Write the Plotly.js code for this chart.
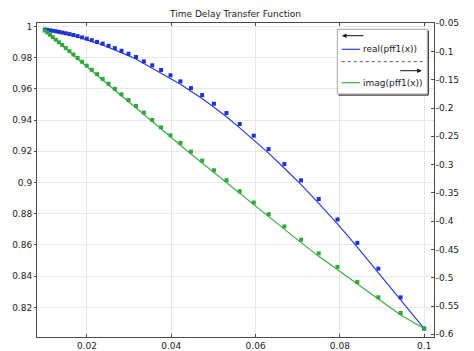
<!DOCTYPE html>
<html>
<head>
<meta charset="utf-8">
<script src="https://cdn.plot.ly/plotly-3.0.1.min.js"></script>
<style>html,body{margin:0;padding:0;background:#fff;}#chart{width:474px;height:351px;}</style>
</head>
<body>
<div id="chart"></div>
<script>
// x samples (log-spaced, 41 points from 0.01 to 0.1)
var xVals = [0.01,0.010593,0.01122,0.011885,0.012589,0.013335,0.014125,0.014962,0.015849,0.016788,
0.017783,0.018836,0.019953,0.021135,0.022387,0.023714,0.025119,0.026607,0.028184,0.029854,
0.031623,0.033497,0.035481,0.037584,0.039811,0.04217,0.044668,0.047315,0.050119,0.053088,
0.056234,0.059566,0.063096,0.066834,0.070795,0.074989,0.079433,0.08414,0.089125,0.094406,0.1];

// real part: dots and line (left axis)
var realDots = [0.9980,0.9978,0.9975,0.9972,0.9969,0.9965,0.9961,0.9956,0.9951,0.9945,
0.9938,0.9930,0.9922,0.9912,0.9901,0.9890,0.9876,0.9861,0.9844,0.9825,
0.9804,0.9776,0.9751,0.9721,0.9687,0.9648,0.9605,0.9560,0.9505,0.9445,
0.9375,0.9300,0.9214,0.9118,0.9014,0.8894,0.8763,0.8613,0.8448,0.8264,0.8064];
var realLine = [0.9980,0.9978,0.9974,0.9971,0.9967,0.9962,0.9958,0.9952,0.9947,0.9940,
0.9932,0.9924,0.9915,0.9904,0.9893,0.9881,0.9866,0.9851,0.9833,0.9813,
0.9791,0.9762,0.9736,0.9704,0.9669,0.9629,0.9584,0.9538,0.9482,0.9421,
0.9350,0.9274,0.9188,0.9091,0.8986,0.8866,0.8735,0.8586,0.8424,0.8245,0.8064];

// imaginary part: dots and line (right axis)
var imagDots = [-0.0630,-0.0665,-0.0704,-0.0746,-0.0790,-0.0837,-0.0886,-0.0939,-0.0994,-0.1053,
-0.1115,-0.1181,-0.1250,-0.1324,-0.1401,-0.1483,-0.1570,-0.1661,-0.1757,-0.1858,
-0.1964,-0.2081,-0.2210,-0.2341,-0.2482,-0.2616,-0.2770,-0.2929,-0.3100,-0.3276,
-0.3470,-0.3670,-0.3876,-0.4093,-0.4328,-0.4570,-0.4808,-0.5076,-0.5346,-0.5624,-0.5899];
var imagLine = [-0.0630,-0.0667,-0.0708,-0.0751,-0.0797,-0.0846,-0.0897,-0.0951,-0.1008,-0.1069,
-0.1133,-0.1200,-0.1271,-0.1346,-0.1425,-0.1508,-0.1596,-0.1688,-0.1786,-0.1888,
-0.1996,-0.2116,-0.2246,-0.2378,-0.2521,-0.2657,-0.2812,-0.2972,-0.3144,-0.3321,
-0.3516,-0.3717,-0.3924,-0.4142,-0.4379,-0.4622,-0.4861,-0.5122,-0.5386,-0.5659,-0.5899];

// tick labels
var xTickVals = [0.02,0.04,0.06,0.08,0.1];
var xTickText = ["0.02","0.04","0.06","0.08","0.1"];
var yTickVals = [0.82,0.84,0.86,0.88,0.9,0.92,0.94,0.96,0.98,1];
var yTickText = ["0.82","0.84","0.86","0.88","0.9","0.92","0.94","0.96","0.98","1"];
var y2TickVals = [-0.6,-0.55,-0.5,-0.45,-0.4,-0.35,-0.3,-0.25,-0.2,-0.15,-0.1,-0.05];
var y2TickText = ["-0.6","-0.55","-0.5","-0.45","-0.4","-0.35","-0.3","-0.25","-0.2","-0.15","-0.1","-0.05"];

var seriesNames = ["real(pff1(x))","imag(pff1(x))"];

var blue = '#2a3fe0', blueDot = '#1f33d0';
var green = '#3cae44', greenDot = '#2fa83a';
var font = 'DejaVu Sans';

var traces = [
  {x: xVals, y: realLine, mode: 'lines', line: {color: blue, width: 1.2}, yaxis: 'y', showlegend: false, hoverinfo: 'skip'},
  {x: xVals, y: realDots, mode: 'markers', marker: {color: blueDot, size: 4, symbol: 'square'}, yaxis: 'y', showlegend: false},
  {x: xVals, y: imagLine, mode: 'lines', line: {color: green, width: 1.2}, yaxis: 'y2', showlegend: false, hoverinfo: 'skip'},
  {x: xVals, y: imagDots, mode: 'markers', marker: {color: greenDot, size: 4, symbol: 'square'}, yaxis: 'y2', showlegend: false}
];

var axisColor = '#4a4a4a';
var gridColor = '#e8e8e8';

var layout = {
  width: 474, height: 351,
  margin: {l: 37, r: 40, t: 23, b: 14, pad: 0},
  paper_bgcolor: '#fff', plot_bgcolor: '#fff',
  font: {family: font, size: 9, color: '#222'},
  title: {text: 'Time Delay Transfer Function', font: {family: font, size: 9, color: '#222'},
          x: 0.5, xref: 'paper', xanchor: 'center', y: 0.96, yref: 'container', yanchor: 'middle'},
  showlegend: false,
  xaxis: {range: [0.00814, 0.10233], tickmode: 'array', tickvals: xTickVals, ticktext: xTickText,
          showgrid: true, gridcolor: gridColor, gridwidth: 1, zeroline: false,
          showline: true, linecolor: axisColor, linewidth: 1, mirror: 'ticks',
          ticks: 'inside', ticklen: 3, tickcolor: axisColor, automargin: false,
          tickfont: {family: font, size: 9, color: '#222'}},
  yaxis: {range: [0.801, 1.0022], tickmode: 'array', tickvals: yTickVals, ticktext: yTickText,
          showgrid: true, gridcolor: gridColor, gridwidth: 1, zeroline: false,
          showline: true, linecolor: axisColor, linewidth: 1, mirror: false,
          ticks: 'outside', ticklen: 2, tickcolor: axisColor, automargin: false,
          tickfont: {family: font, size: 9, color: '#222'}},
  yaxis2: {range: [-0.6048, -0.0496], overlaying: 'y', side: 'right', tickmode: 'array',
           tickvals: y2TickVals, ticktext: y2TickText, showgrid: false, zeroline: false,
           showline: true, linecolor: axisColor, linewidth: 1,
           ticks: 'inside', ticklen: 3, tickcolor: axisColor, automargin: false,
           ticklabelstandoff: -1,
           tickfont: {family: font, size: 9, color: '#222'}},
  shapes: [
    // legend shadow
    {type: 'line', xref: 'paper', yref: 'paper', x0: 0.9856, x1: 0.9856, y0: 0.9761, y1: 0.7707, line: {color: '#444', width: 1.5}, layer: 'above'},
    {type: 'line', xref: 'paper', yref: 'paper', x0: 0.7594, x1: 0.9856, y0: 0.7707, y1: 0.7707, line: {color: '#444', width: 1.5}, layer: 'above'},
    // legend box
    {type: 'rect', xref: 'paper', yref: 'paper', x0: 0.7564, x1: 0.9831, y0: 0.7739, y1: 0.9799, fillcolor: '#fff', line: {color: '#a8a8a8', width: 1}, layer: 'above'},
    // legend samples
    {type: 'line', xref: 'paper', yref: 'paper', x0: 0.7675, x1: 0.8136, y0: 0.9162, y1: 0.9162, line: {color: blue, width: 1.2}, layer: 'above'},
    {type: 'line', xref: 'paper', yref: 'paper', x0: 0.7675, x1: 0.9730, y0: 0.8768, y1: 0.8768, line: {color: '#555', width: 1, dash: 'dot'}, layer: 'above'},
    {type: 'line', xref: 'paper', yref: 'paper', x0: 0.7675, x1: 0.8136, y0: 0.8099, y1: 0.8099, line: {color: green, width: 1.2}, layer: 'above'}
  ],
  annotations: [
    {xref: 'paper', yref: 'paper', x: 0.7683, y: 0.9596, text: '', showarrow: true, ax: 23, ay: 0,
     arrowhead: 2, arrowsize: 0.9, arrowwidth: 1, arrowcolor: '#111', standoff: 0},
    {xref: 'paper', yref: 'paper', x: 0.8161, y: 0.9162, text: seriesNames[0], showarrow: false,
     xanchor: 'left', yanchor: 'middle', font: {family: font, size: 9, color: '#222'}},
    {xref: 'paper', yref: 'paper', x: 0.9690, y: 0.8481, text: '', showarrow: true, ax: -23, ay: 0,
     arrowhead: 2, arrowsize: 0.9, arrowwidth: 1, arrowcolor: '#111', standoff: 0},
    {xref: 'paper', yref: 'paper', x: 0.8161, y: 0.8099, text: seriesNames[1], showarrow: false,
     xanchor: 'left', yanchor: 'middle', font: {family: font, size: 9, color: '#222'}}
  ]
};

Plotly.newPlot('chart', traces, layout, {displayModeBar: false, staticPlot: true});
</script>
</body>
</html>
